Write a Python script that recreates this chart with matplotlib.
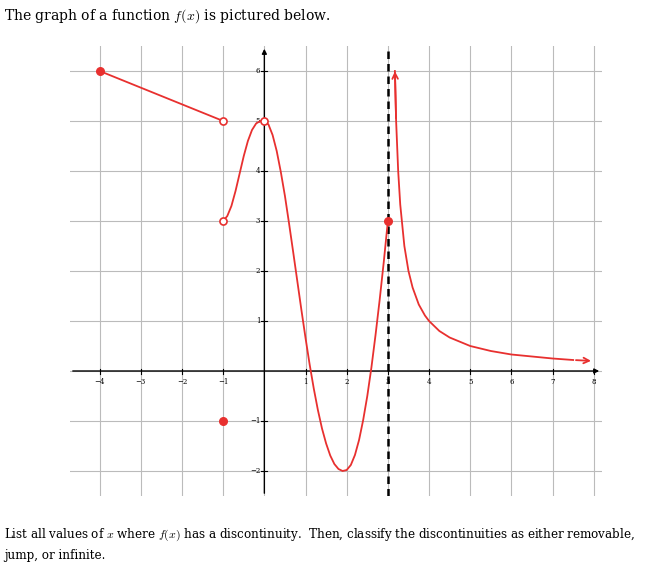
import numpy as np
import matplotlib.pyplot as plt

plt.rcParams['font.family'] = ['DejaVu Serif']
plt.rcParams['mathtext.fontset'] = 'cm'

# points
seg1_x = [-4, -1]
seg1_y = [6, 5]
seg2_x = [-1, -0.9, -0.8, -0.7, -0.6, -0.5, -0.4, -0.3, -0.2, -0.1, 0]
seg2_y = [3, 3.1, 3.3, 3.6, 3.95, 4.3, 4.6, 4.82, 4.95, 5.0, 5.0]
seg3_x = [0, 0.1, 0.2, 0.3, 0.4, 0.5, 0.6, 0.7, 0.8, 0.9, 1.0, 1.1, 1.2, 1.3, 1.4, 1.5,
          1.6, 1.7, 1.8, 1.9, 2.0, 2.1, 2.2, 2.3, 2.4, 2.5, 2.6, 2.7, 2.8, 2.9, 3.0]
seg3_y = [5, 4.93, 4.72, 4.4, 3.98, 3.5, 2.95, 2.38, 1.8, 1.22, 0.66, 0.13, -0.35, -0.78,
          -1.15, -1.45, -1.69, -1.86, -1.96, -2.0, -1.98, -1.88, -1.68, -1.38, -0.98, -0.5,
          0.07, 0.72, 1.42, 2.18, 3.0]
seg4_x = [3.17, 3.2, 3.25, 3.3, 3.4, 3.5, 3.6, 3.75, 3.9, 4.0, 4.25, 4.5, 5.0, 5.5, 6.0, 6.5, 7.0, 7.5, 8.0]
seg4_y = [6.0, 5.0, 4.0, 3.33, 2.5, 2.0, 1.67, 1.33, 1.11, 1.0, 0.8, 0.67, 0.5, 0.4, 0.33, 0.29, 0.25, 0.22, 0.2]
closed_pts = [(-4, 6), (-1, -1), (3, 3)]
open_pts = [(-1, 5), (-1, 3), (0, 5)]
xticks = [-4, -3, -2, -1, 1, 2, 3, 4, 5, 6, 7, 8]
yticks = [-2, -1, 1, 2, 3, 4, 5, 6]

red = '#e8302f'
fig = plt.figure(figsize=(6.71, 5.66), dpi=100)
ax = fig.add_axes([70/671, 1-496/566, 532/671, 450/566])
ax.set_xlim(-4.72, 8.2)
ax.set_ylim(-2.5, 6.5)
for v in range(-4, 9):
    ax.axvline(v, color='#bbbbbb', lw=0.8, zorder=0)
for v in range(-2, 7):
    ax.axhline(v, color='#bbbbbb', lw=0.8, zorder=0)
for s in ax.spines.values():
    s.set_visible(False)
ax.set_xticks([])
ax.set_yticks([])

ax.annotate('', xy=(8.2, 0), xytext=(-4.72, 0),
            arrowprops=dict(arrowstyle='-|>', lw=1, color='black', mutation_scale=7))
ax.annotate('', xy=(0, 6.5), xytext=(0, -2.5),
            arrowprops=dict(arrowstyle='-|>', lw=1, color='black', mutation_scale=7))
for t in xticks:
    ax.plot([t, t], [-0.05, 0.05], color='black', lw=0.8)
    ax.text(t, -0.13, str(t).replace('-', '−'), ha='center', va='top', fontsize=5)
for t in yticks:
    ax.plot([-0.07, 0.07], [t, t], color='black', lw=0.8)
    ax.text(-0.1, t, str(t).replace('-', '−'), ha='right', va='center', fontsize=5)

ax.axvline(3, color='black', ls=(0, (3, 2)), lw=1.8, zorder=2)

for xs, ys in [(seg1_x, seg1_y), (seg2_x, seg2_y), (seg3_x, seg3_y)]:
    ax.plot(xs, ys, color=red, lw=1.3, zorder=3)
ax.plot(seg4_x[:-1], seg4_y[:-1], color=red, lw=1.3, zorder=3)
ax.annotate('', xy=(seg4_x[-1], seg4_y[-1]), xytext=(seg4_x[-2], seg4_y[-2]),
            arrowprops=dict(arrowstyle='->', lw=1.3, color=red))
ax.annotate('', xy=(seg4_x[0], seg4_y[0] + 0.05), xytext=(seg4_x[1], seg4_y[1]),
            arrowprops=dict(arrowstyle='->', lw=1.3, color=red))

ax.scatter([p[0] for p in closed_pts], [p[1] for p in closed_pts], s=30, color=red, zorder=5)
ax.scatter([p[0] for p in open_pts], [p[1] for p in open_pts], s=26, facecolor='white',
           edgecolor=red, lw=1.2, zorder=5)

fig.text(4/671, 1-16/566, r'The graph of a function $f(x)$ is pictured below.', fontsize=10, va='center')
fig.text(4/671, 1-535/566, r'List all values of $x$ where $f(x)$ has a discontinuity.  Then, classify the discontinuities as either removable,',
         fontsize=8.6, va='center')
fig.text(4/671, 1-555/566, 'jump, or infinite.', fontsize=8.6, va='center')

fig.savefig('out.png', dpi=100)
